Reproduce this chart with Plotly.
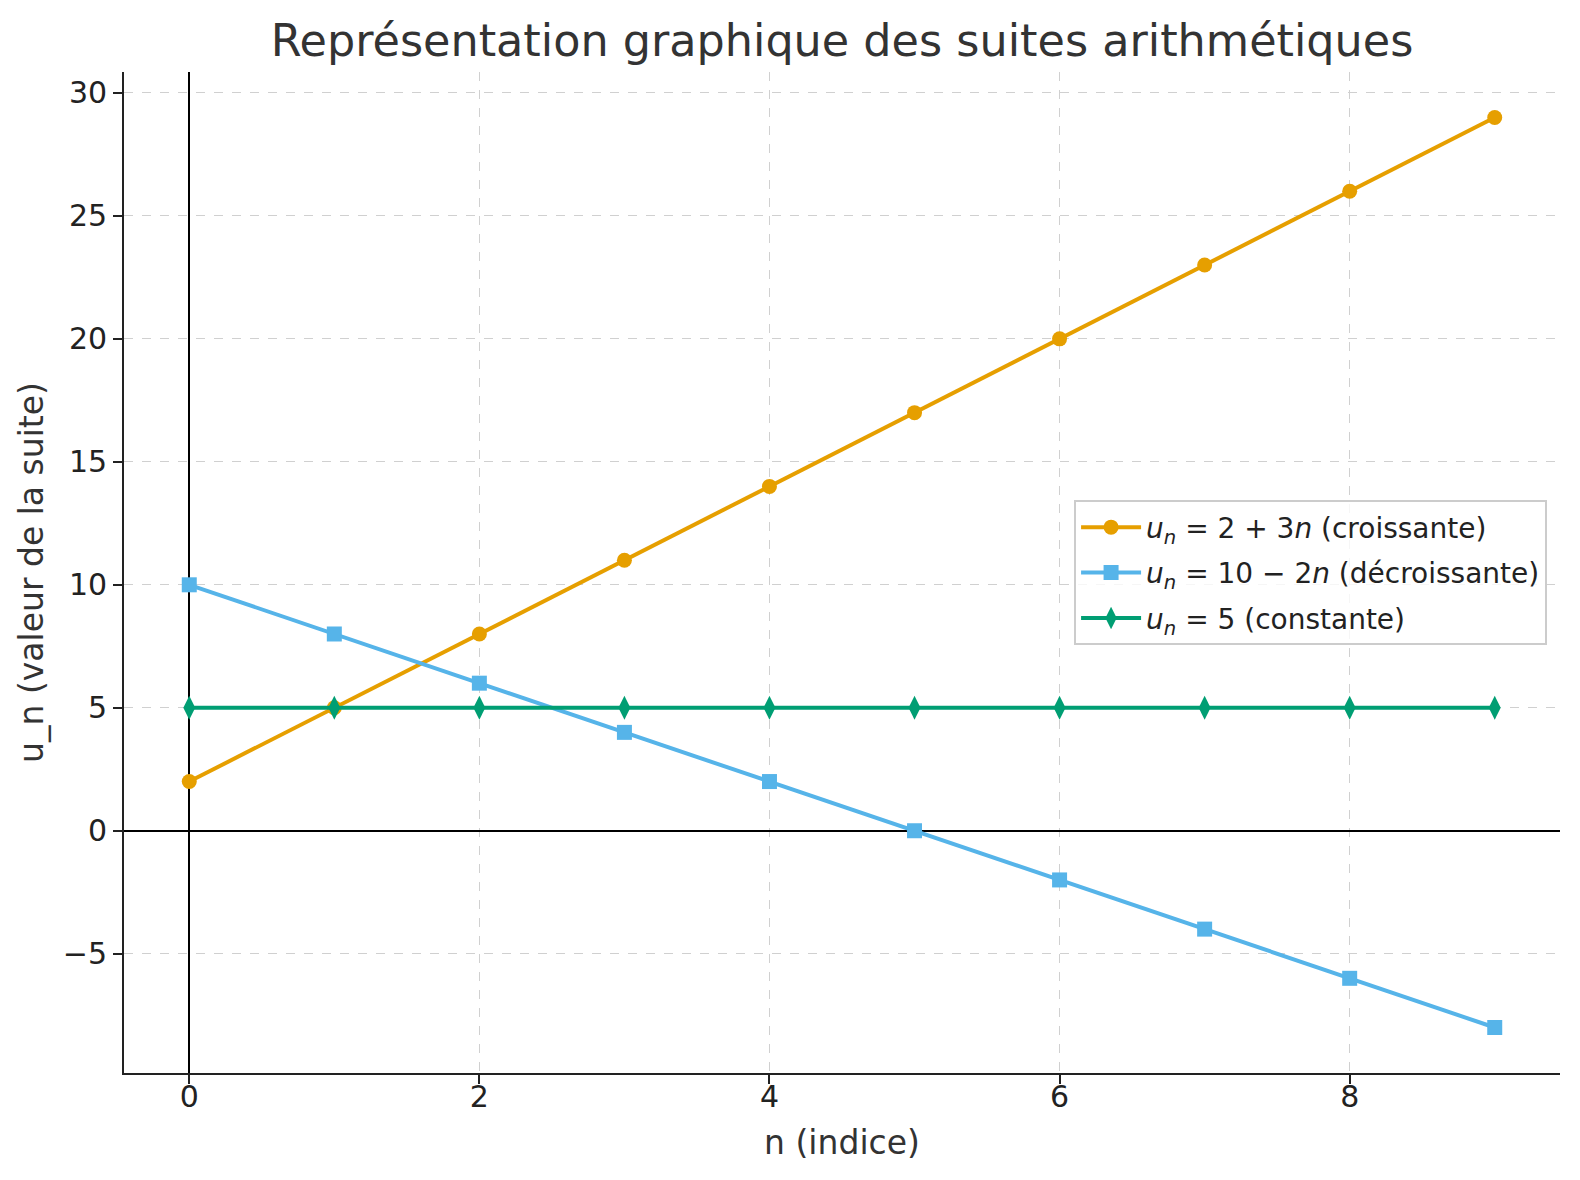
import plotly.graph_objects as go

n = [0, 1, 2, 3, 4, 5, 6, 7, 8, 9]
u_croissante = [2, 5, 8, 11, 14, 17, 20, 23, 26, 29]
u_decroissante = [10, 8, 6, 4, 2, 0, -2, -4, -6, -8]
u_constante = [5, 5, 5, 5, 5, 5, 5, 5, 5, 5]

names = [
    "<i>u</i><sub><i>n</i></sub> = 2 + 3<i>n</i> (croissante)",
    "<i>u</i><sub><i>n</i></sub> = 10 − 2<i>n</i> (décroissante)",
    "<i>u</i><sub><i>n</i></sub> = 5 (constante)",
]
colors = ["#E69F00", "#56B4E9", "#009E73"]
symbols = ["circle", "square", "diamond-tall"]
series = [u_croissante, u_decroissante, u_constante]

FONT = "DejaVu Sans"
fig = go.Figure()
for i, (name, ys, c, s) in enumerate(zip(names, series, colors, symbols)):
    fig.add_trace(go.Scatter(
        x=n, y=ys, mode="lines+markers", name=name, legendgroup=f"g{i}",
        line=dict(color=c, width=4),
        marker=dict(symbol=s, size=15 if s != "diamond-tall" else 17, color=c),
    ))

axis_common = dict(
    showline=True, linecolor="#222", linewidth=1.8, mirror=False,
    ticks="outside", ticklen=9, tickwidth=1.6, tickcolor="#222",
    showgrid=True, gridcolor="#d0d0d0", griddash="dash", gridwidth=1.2,
    zeroline=True, zerolinecolor="#000", zerolinewidth=1.6,
    tickfont=dict(family=FONT, size=30, color="#222"),
)

fig.update_layout(
    width=1580, height=1180,
    paper_bgcolor="white", plot_bgcolor="white",
    margin=dict(l=124, r=20, t=72, b=107),
    font=dict(family=FONT, color="#333"),
    title=dict(text="Représentation graphique des suites arithmétiques",
               x=842 / 1580, xanchor="center",
               y=1 - 40 / 1180, yanchor="middle",
               font=dict(family=FONT, size=44.5, color="#333")),
    xaxis=dict(range=[-0.45, 9.45], tickvals=[0, 2, 4, 6, 8], ticklabelstandoff=-13,
               title=dict(text="n (indice)", font=dict(family=FONT, size=33, color="#333"), standoff=18),
               **axis_common),
    yaxis=dict(range=[-9.85, 30.85], tickvals=[-5, 0, 5, 10, 15, 20, 25, 30],
               title=dict(text="u_n (valeur de la suite)", font=dict(family=FONT, size=33, color="#333"), standoff=9),
               **axis_common),
    legend=dict(x=0.991, y=0.572, xanchor="right", yanchor="top",
                bgcolor="rgba(255,255,255,0.8)", bordercolor="#cccccc", borderwidth=2,
                font=dict(family=FONT, size=28, color="#222"),
                tracegroupgap=6, itemwidth=60),
    showlegend=True,
)

fig.write_html("out.html")
